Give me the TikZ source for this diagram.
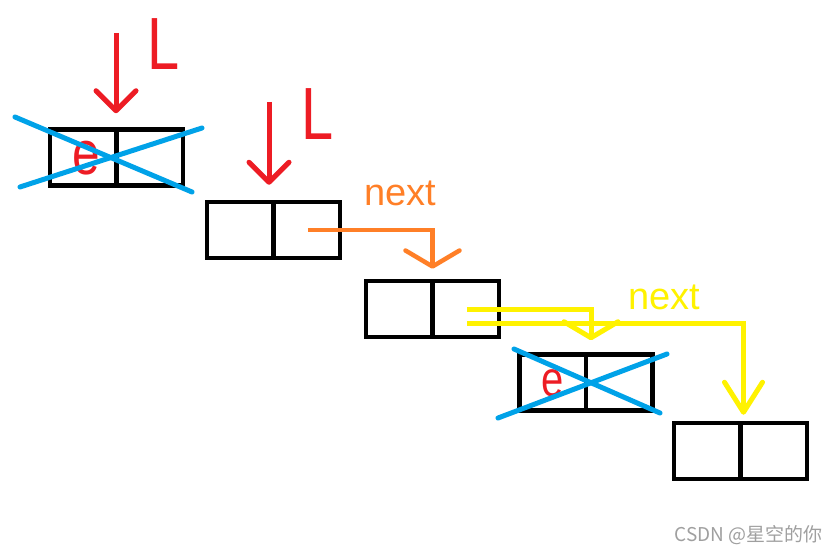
\documentclass[tikz,border=0pt]{standalone}
\usepackage{fontspec}
\setmainfont{Liberation Sans}
\newfontfamily\cjkfont{Noto Sans CJK SC}
\usetikzlibrary{arrows.meta, calc}
\definecolor{paintred}{RGB}{237,28,36}
\definecolor{paintblue}{RGB}{0,162,232}
\definecolor{paintorange}{RGB}{255,127,39}
\definecolor{paintyellow}{RGB}{255,242,0}
\tikzset{
  cell/.style={draw=black,line width=4.5,minimum width=133,minimum height=56,inner sep=0,
    path picture={\draw[line width=4.5] (path picture bounding box.north) -- (path picture bounding box.south);}},
  ptr arrow/.style={paintred,line width=5,-{Straight Barb[length=20,width=40,round]}},
  next arrow/.style={line width=4.5,-{Straight Barb[length=16,width=54,round]}},
  cross/.style={paintblue,line width=5,line cap=round},
  hand/.style={inner sep=0,font=\fontsize{#1}{#1}\selectfont}
}

\begin{document}
\begin{tikzpicture}[x=1pt,y=-1pt]
  \useasboundingbox (0,0) rectangle (839,551);

  % Boxes
  \node[cell] (n1) at (116.5,157.5) {};
  \node[cell] (n2) at (273.5,230) {};
  \node[cell] (n3) at (432.5,309) {};
  \node[cell] (n4) at (586,382.5) {};
  \node[cell] (n5) at (740.5,451) {};

  % right halves
  \coordinate (r2) at ($(n2.center)!0.5!(n2.east)$);
  \coordinate (r3) at ($(n3.center)!0.5!(n3.east)$);

  % removed elements
  \node[hand=62,paintred,xscale=0.8] (e1) at (86,158) {e};
  \node[hand=50,paintred,xscale=0.8] (e4) at (553,383) {e};
  \draw[cross] (15,117) -- (192,192);
  \draw[cross] (20,187) -- (202,128);
  \draw[cross] (514,349) -- (660,413);
  \draw[cross] (498,418) -- (667,354);

  % L pointers
  \coordinate (p1) at (116,33);
  \coordinate (p2) at (269,102);
  \draw[ptr arrow,shorten >=14] (p1) -- (p1 |- n1.north);
  \draw[ptr arrow,shorten >=15] (p2) -- (p2 |- n2.north);
  \node[hand=74,paintred,xscale=0.78] (L1) at (164,44.5) {L};
  \node[hand=74,paintred,xscale=0.78] (L2) at (318,114) {L};

  % next links
  \draw[next arrow,paintorange,shorten >=10] (r2) -| (n3);
  \node[hand=38,paintorange] (next1) at (400,193) {next};
  \draw[next arrow,paintyellow,line width=5,shorten >=12] (r3) -| ([xshift=5]n4.north);
  \draw[paintyellow,line width=5,-{Straight Barb[length=30,width=38,round]},shorten >=6]
    ([yshift=-14]r3) -| ([xshift=3]n5.north);
  \node[hand=38,paintyellow] (next2) at (664,297) {next};

  % watermark
  \node[anchor=south east,inner sep=0,text=gray!75,font=\cjkfont\fontsize{19}{19}\selectfont]
    (mark) at (823,545) {CSDN @星空的你};
\end{tikzpicture}
\end{document}
